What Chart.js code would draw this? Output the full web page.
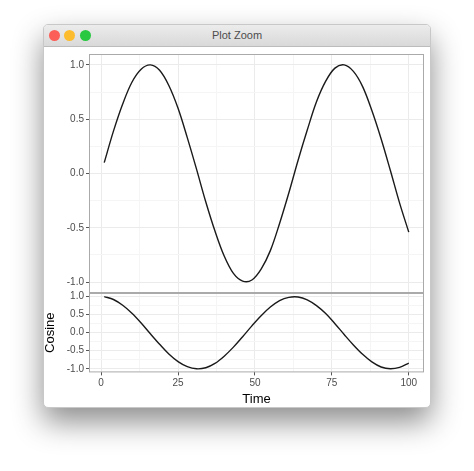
<!DOCTYPE html>
<html><head><meta charset="utf-8">
<script src="https://cdn.jsdelivr.net/npm/chart.js@4"></script>
<style>
body{margin:0;background:#fff;font-family:"Liberation Sans",Arial,sans-serif;}
#win{position:absolute;left:43px;top:24px;width:388px;height:384px;background:#fff;border-radius:5px;
 box-shadow:0 14px 30px rgba(0,0,0,0.45);overflow:hidden;border:1px solid #c8c8c8;box-sizing:border-box;}
#bar{position:absolute;left:0;top:0;width:100%;height:21px;background:linear-gradient(#ececec,#d9d9d9);border-bottom:1px solid #bcbcbc;
 text-align:center;font-size:11px;line-height:21px;color:#4d4d4d;}
.dot{position:absolute;top:5px;width:11px;height:11px;border-radius:50%;}
canvas{position:absolute;}
</style></head><body>
<div id="win"><div id="bar">Plot Zoom
<div class="dot" style="left:5px;background:#fc5f57"></div>
<div class="dot" style="left:20px;background:#fdbc2e"></div>
<div class="dot" style="left:36px;background:#28c840"></div></div></div>
<div style="position:absolute;left:43px;top:46px;width:388px;height:255px"><canvas id="top"></canvas></div>
<div style="position:absolute;left:43px;top:285px;width:388px;height:128px"><canvas id="bot"></canvas></div>
<script>
// values
const timeValues = [1,4,7,10,13,16,19,22,25,28,31,34,37,40,43,46,49,52,55,58,61,64,67,70,73,76,79,82,85,88,91,94,97,100];
const sineValues = [0.10,0.39,0.64,0.84,0.96,1.00,0.95,0.81,0.60,0.33,0.04,-0.26,-0.53,-0.76,-0.92,-0.99,-0.98,-0.88,-0.71,-0.46,-0.18,0.12,0.40,0.66,0.85,0.97,1.00,0.94,0.80,0.58,0.32,0.03,-0.27,-0.54];
const cosineValues = [1.00,0.92,0.76,0.54,0.27,-0.03,-0.32,-0.59,-0.80,-0.94,-1.00,-0.97,-0.85,-0.65,-0.40,-0.11,0.19,0.47,0.71,0.89,0.98,0.99,0.91,0.75,0.53,0.25,-0.05,-0.34,-0.60,-0.81,-0.95,-1.00,-0.96,-0.84];
const xTicks = [0,25,50,75,100];
const yTicks = [-1.0,-0.5,0.0,0.5,1.0];

const isMajor = (v, step) => Math.abs(v / step - Math.round(v / step)) < 1e-6;

const panelBorder = {
    id: "panelBorder",
    afterDraw(chart) {
        const a = chart.chartArea, c = chart.ctx;
        c.save();
        c.strokeStyle = "#aaaaaa";
        c.lineWidth = 1;
        c.strokeRect(a.left + 0.5, a.top + 0.5, a.right - a.left - 1, a.bottom - a.top - 1);
        c.restore();
    }
};

function makePanel(canvas, values, yTitle, showX, pad) {
    const points = timeValues.map((t, i) => ({x: t, y: values[i]}));
    new Chart(canvas, {
        type: "line",
        data: {datasets: [{data: points, borderColor: "#1a1a1a", borderWidth: 1.4, pointRadius: 0, tension: 0.35}]},
        plugins: [panelBorder],
        options: {
            animation: false, responsive: true, maintainAspectRatio: false,
            layout: {padding: pad},
            plugins: {legend: {display: false}, tooltip: {enabled: false}},
            scales: {
                x: {
                    type: "linear", min: -3.95, max: 104.95,
                    afterBuildTicks(s) { s.ticks = [0,12.5,25,37.5,50,62.5,75,87.5,100].map(v => ({value: v})); },
                    ticks: {display: showX, color: "#4d4d4d", font: {size: 10, family: "Liberation Sans"}, padding: 2, maxRotation: 0,
                        callback: v => xTicks.includes(v) ? String(v) : ""},
                    grid: {drawTicks: showX, tickLength: 3,
                        color: c => isMajor(c.tick.value, 25) ? "#ebebeb" : "#f5f5f5",
                        tickColor: c => isMajor(c.tick.value, 25) ? "#555" : "rgba(0,0,0,0)"},
                    border: {display: false},
                    title: {display: showX, text: "Time", color: "#000", font: {size: 13, family: "Liberation Sans"}, padding: {top: 0}}
                },
                y: {
                    min: -1.1, max: 1.1,
                    afterBuildTicks(s) { s.ticks = [-1,-0.75,-0.5,-0.25,0,0.25,0.5,0.75,1].map(v => ({value: v})); },
                    afterFit(s) { s.width = 46; },
                    ticks: {color: "#4d4d4d", font: {size: 10, family: "Liberation Sans"}, padding: 2, autoSkip: false,
                        callback: v => yTicks.some(t => Math.abs(t - v) < 1e-6) ? v.toFixed(1) : ""},
                    grid: {tickLength: 3,
                        color: c => isMajor(c.tick.value, 0.5) ? "#ebebeb" : "#f5f5f5",
                        tickColor: c => isMajor(c.tick.value, 0.5) ? "#555" : "rgba(0,0,0,0)"},
                    border: {display: false},
                    title: {display: !!yTitle, text: yTitle, color: "#000", font: {size: 13, family: "Liberation Sans"}, padding: 0}
                }
            }
        }
    });
}

makePanel(document.getElementById("top"), sineValues, "", false, {top: 2, right: 7, bottom: 0, left: 0});
makePanel(document.getElementById("bot"), cosineValues, "Cosine", true, {top: 1, right: 7, bottom: 2, left: 0});
</script>
</body></html>
